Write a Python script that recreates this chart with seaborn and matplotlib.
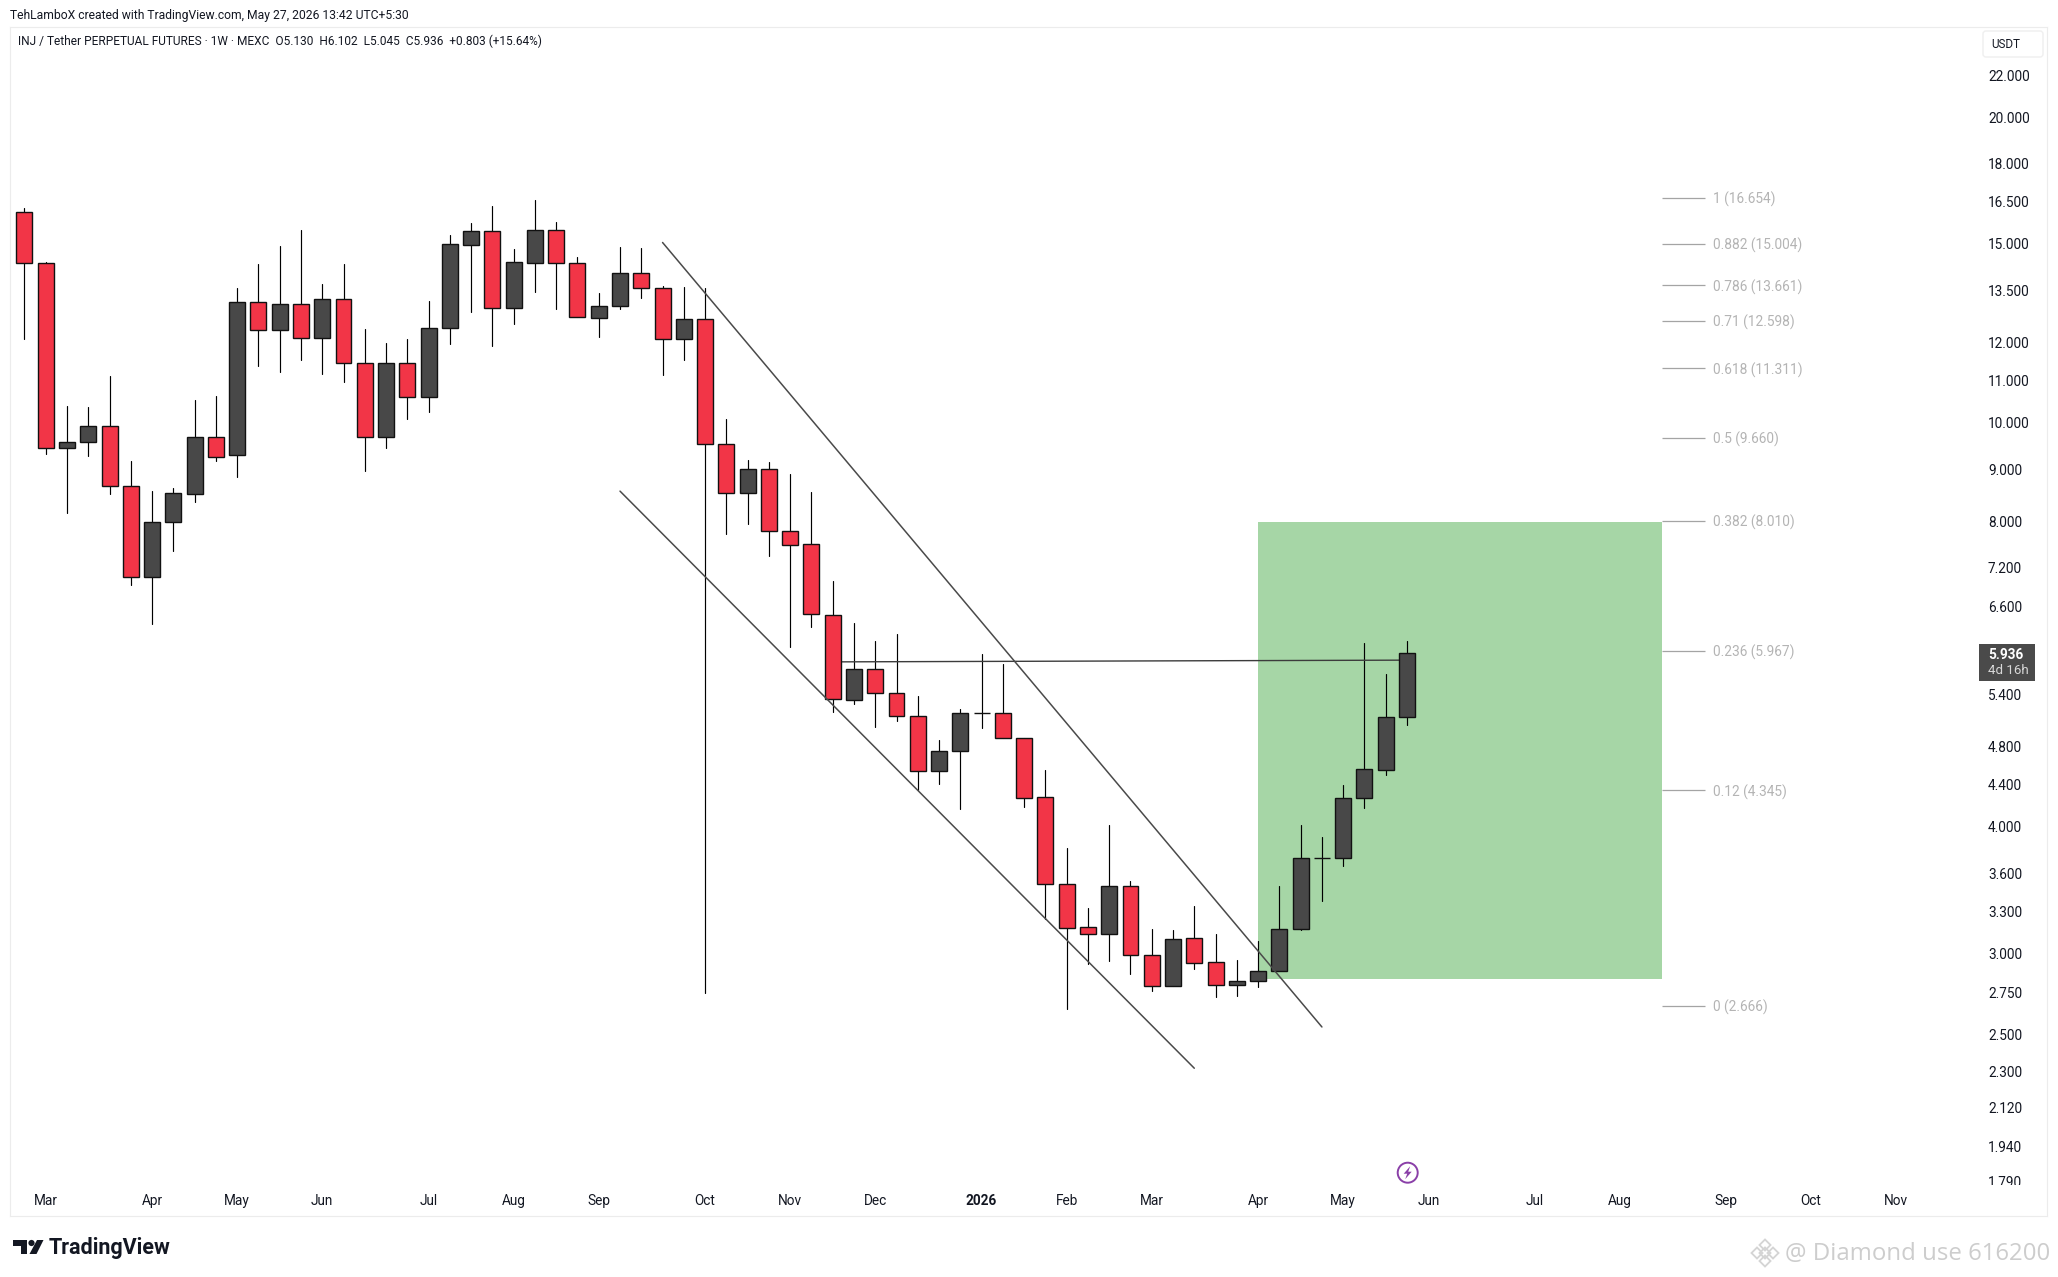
import pandas as pd
import matplotlib
matplotlib.use("Agg")
import matplotlib.pyplot as plt
import matplotlib.patches as mpatches
from matplotlib.transforms import Affine2D, Bbox
import seaborn as sns

# weekly candles
highs = [16.26,14.39,10.39,10.36,11.11,9.168,8.569,8.624,10.53,10.62,13.57,14.32,14.93,15.48,13.7,14.32,12.37,11.98,12.09,13.18,15.31,15.73,16.35,14.83,16.58,15.77,14.56,13.42,14.89,14.86,13.64,13.6,13.56,10.08,9.193,9.151,8.9,8.545,6.984,6.349,6.095,6.192,5.379,4.868,5.232,5.917,5.787,4.899,4.55,3.812,3.327,4.016,3.54,3.173,3.165,3.345,3.137,2.962,3.087,3.5,4.016,3.908,4.401,6.068,5.656,6.102]
body_tops = [16.11,14.35,9.584,9.936,9.936,8.672,7.979,8.521,9.673,9.673,13.16,13.16,13.1,13.1,13.25,13.25,11.44,11.44,11.44,12.41,14.99,15.44,15.44,14.39,15.47,15.47,14.35,13.02,14.06,14.06,13.56,12.66,12.66,9.54,9.016,9.016,7.833,7.59,6.473,5.729,5.729,5.424,5.15,4.756,5.184,5.179,5.184,4.899,4.286,3.519,3.185,3.503,3.503,2.995,3.106,3.113,2.948,2.824,2.889,3.177,3.732,3.732,4.276,4.557,5.127,5.936]
body_bottoms = [14.35,9.452,9.452,9.584,8.672,7.055,7.055,7.994,8.513,9.261,9.287,12.33,12.35,12.12,12.12,11.45,9.691,9.691,10.61,10.61,12.41,14.97,12.96,12.96,14.37,14.35,12.7,12.69,13.02,13.56,12.08,12.1,9.54,8.537,8.537,7.833,7.583,6.485,5.349,5.34,5.424,5.146,4.545,4.545,4.756,5.174,4.899,4.272,3.516,3.182,3.139,3.139,2.995,2.79,2.79,2.942,2.796,2.796,2.824,2.889,3.175,3.73,3.73,4.273,4.553,5.13]
lows = [12.1,9.322,8.151,9.27,8.513,6.926,6.343,7.479,8.365,9.176,8.851,11.38,11.21,11.53,11.18,10.98,8.974,9.443,10.09,10.24,11.96,12.85,11.9,12.51,13.45,12.95,12.7,12.15,12.94,13.26,11.15,11.53,2.745,7.768,7.95,7.396,6.011,6.296,5.193,5.286,5.019,5.084,4.348,4.413,4.17,5.009,4.899,4.186,3.245,2.646,2.935,2.95,2.865,2.759,2.79,2.897,2.719,2.727,2.784,2.884,3.168,3.381,3.66,4.174,4.502,5.045]
direction = "rrggrrgggr" "grgrgrrgrg" "ggrggrrggr" "rgrrgrrrrg" "rrrgggrrrr" "rgrrgrrggg" "gggggg"

price_ticks = [22, 20, 18, 16.5, 15, 13.5, 12, 11, 10, 9, 8, 7.2, 6.6, 5.4, 4.8, 4.4, 4, 3.6, 3.3, 3, 2.75, 2.5, 2.3, 2.12, 1.94, 1.79]
month_ticks = [1, 6, 10, 14, 19, 23, 27, 32, 36, 40, 45, 49, 53, 58, 62, 66, 71, 75, 80, 84, 88]
month_labels = ["Mar", "Apr", "May", "Jun", "Jul", "Aug", "Sep", "Oct", "Nov", "Dec", "2026",
                "Feb", "Mar", "Apr", "May", "Jun", "Jul", "Aug", "Sep", "Oct", "Nov"]

fib_ratios = ["1", "0.882", "0.786", "0.71", "0.618", "0.5", "0.382", "0.236", "0.12", "0"]
fib_prices = [16.654, 15.004, 13.661, 12.598, 11.311, 9.660, 8.010, 5.967, 4.345, 2.666]

# drawn lines: two channel edges and the level line
line_names = ["upper", "upper", "lower", "lower", "level", "level"]
line_weeks = [30, 61, 28, 55, 38, 65]
line_prices = [15.05, 2.542, 8.565, 2.315, 5.816, 5.839]

box_weeks = [58, 77]
box_low, box_high = 2.832, 7.984

RED = "#f23547"
DARK = "#484848"
GREEN = "#a6d6a6"
INK = "#131722"

W, H = 2058, 1277

sns.set_theme(style="white")
plt.rcParams["font.family"] = ["Roboto", "DejaVu Sans"]

fig = plt.figure(figsize=(W / 100, H / 100), dpi=100, facecolor="white")
ax = fig.add_axes([10 / W, 1 - 1216 / H, 2037 / W, 1189 / H])
ax.set_yscale("log")
ax.set_xlim(-0.68, 95.09)
ax.set_ylim(1.656, 24.53)

# pixel coords from the top left, for everything outside the chart scales
top_px = Affine2D().scale(1, -1).translate(0, H)

ax.fill_between(box_weeks, box_low, box_high, color=GREEN, linewidth=0, zorder=1)

weeks = list(range(len(highs)))
wicks = pd.DataFrame({"week": weeks + weeks, "price": highs + lows})
sns.lineplot(data=wicks, x="week", y="price", units="week", estimator=None, sort=False,
             color="black", linewidth=0.85, legend=False, ax=ax, zorder=2)

level = pd.DataFrame({"name": line_names, "week": line_weeks, "price": line_prices})
sns.lineplot(data=level[level["name"] == "level"], x="week", y="price", color="#3c3c3c",
             linewidth=1.0, legend=False, ax=ax, zorder=2.5)

for i in weeks:
    ax.bar(i, body_tops[i] - body_bottoms[i], bottom=body_bottoms[i], width=0.75,
           color=RED if direction[i] == "r" else DARK, edgecolor="#111111", linewidth=1.0, zorder=3)

channels = level[level["name"] != "level"]
sns.lineplot(data=channels, x="week", y="price", units="name", estimator=None, sort=False,
             color="#4a4a4a", linewidth=1.1, legend=False, ax=ax, zorder=4)

# fib levels on the right
ax.hlines(fib_prices, 77, 79, color="#a4a4a4", linewidth=0.9, zorder=1)
for ratio, price in zip(fib_ratios, fib_prices):
    ax.annotate(f"{ratio} ({price:.3f})", xy=(79.37, price), xytext=(0, -1.2), textcoords="offset points",
                color="#b4b4b4", fontsize=9.9, va="center", ha="left")

ax.set_xlabel("")
ax.set_ylabel("")
ax.yaxis.tick_right()
ax.minorticks_off()
ax.set_yticks(price_ticks, labels=[f"{p:.3f}" for p in price_ticks])
ax.set_xticks(month_ticks, labels=month_labels)
ax.tick_params(axis="y", which="both", length=0, pad=-42.5, labelsize=9.8, labelcolor=INK)
ax.tick_params(axis="x", which="both", length=0, pad=-15.5, labelsize=9.8, labelcolor=INK)
ax.yaxis.set_tick_params(which="minor", labelright=False)
for tick in ax.get_xticklabels():
    if tick.get_text() == "2026":
        tick.set_fontweight("bold")
# the lowest price label is cut by the time scale
ax.yaxis.get_major_ticks()[-1].label2.set_clip_box(Bbox([[0, H - 1185], [W, H]]))
ax.yaxis.get_major_ticks()[-1].label2.set_clip_on(True)

for side in ax.spines.values():
    side.set_color("#ececec")
    side.set_linewidth(0.8)

fig.text(10, 15, "TehLamboX created with TradingView.com, May 27, 2026 13:42 UTC+5:30",
         transform=top_px, fontsize=8.7, color=INK, va="center", ha="left")
fig.text(18, 41.5, "INJ / Tether PERPETUAL FUTURES · 1W · MEXC  O5.130  H6.102  L5.045  C5.936  +0.803 (+15.64%)",
         transform=top_px, fontsize=8.6, color=INK, va="center", ha="left")

# currency box
fig.add_artist(mpatches.FancyBboxPatch((1983, 31), 60, 26, boxstyle="round,pad=0,rounding_size=3",
                                       transform=top_px, facecolor="white", edgecolor="#efefef", linewidth=1))
fig.text(1991, 44.5, "USDT", transform=top_px, fontsize=8.4, color=INK, va="center", ha="left")

# last price tag
fig.add_artist(mpatches.Rectangle((1979, 644), 56, 36.5, transform=top_px, facecolor="#4a4a4a", edgecolor="none"))
fig.text(1988, 655, "5.936", transform=top_px, fontsize=9.8, fontweight="bold", color="white", va="center", ha="left")
fig.text(1988, 671, "4d 16h", transform=top_px, fontsize=9.6, color="#d8d8d8", va="center", ha="left")

# replay badge
fig.add_artist(mpatches.Circle((1407.7, 1172.7), 10, transform=top_px, facecolor="white",
                               edgecolor="#8a3fa8", linewidth=1.4))
bolt = [(2.5, -6.5), (-4, 1), (-0.5, 1), (-2.5, 6.5), (4, -1), (0.5, -1)]
fig.add_artist(mpatches.Polygon([(1407.7 + a, 1172.7 + b) for a, b in bolt], transform=top_px,
                                facecolor="#8a3fa8", edgecolor="none"))

# TradingView logo
logo = [mpatches.Polygon([(12.6, 1240), (27, 1240), (27, 1254), (20.5, 1254), (20.5, 1245.5), (12.6, 1245.5)]),
        mpatches.Circle((31.5, 1243), 3.1),
        mpatches.Polygon([(37, 1240), (43.5, 1240), (36.5, 1254), (29.5, 1254)])]
for part in logo:
    part.set_transform(top_px)
    part.set_facecolor(INK)
    part.set_edgecolor("none")
    fig.add_artist(part)
fig.text(49, 1248, "TradingView", transform=top_px, fontsize=15.5, fontweight="bold", color=INK,
         va="center", ha="left")

# watermark
for cx, cy in [(1757, 1253), (1773, 1253), (1765, 1245), (1765, 1261), (1765, 1253)]:
    fig.add_artist(mpatches.RegularPolygon((cx, cy), 4, radius=5.5, transform=top_px, facecolor="none",
                                           edgecolor="#d4d4d4", linewidth=1.3))
fig.text(1785, 1254, "@ Diamond use 616200", transform=top_px, fontsize=17.3, color="#cdcdcd",
         family=["Open Sans", "DejaVu Sans"], va="center", ha="left")

fig.savefig("out.png", dpi=100)
